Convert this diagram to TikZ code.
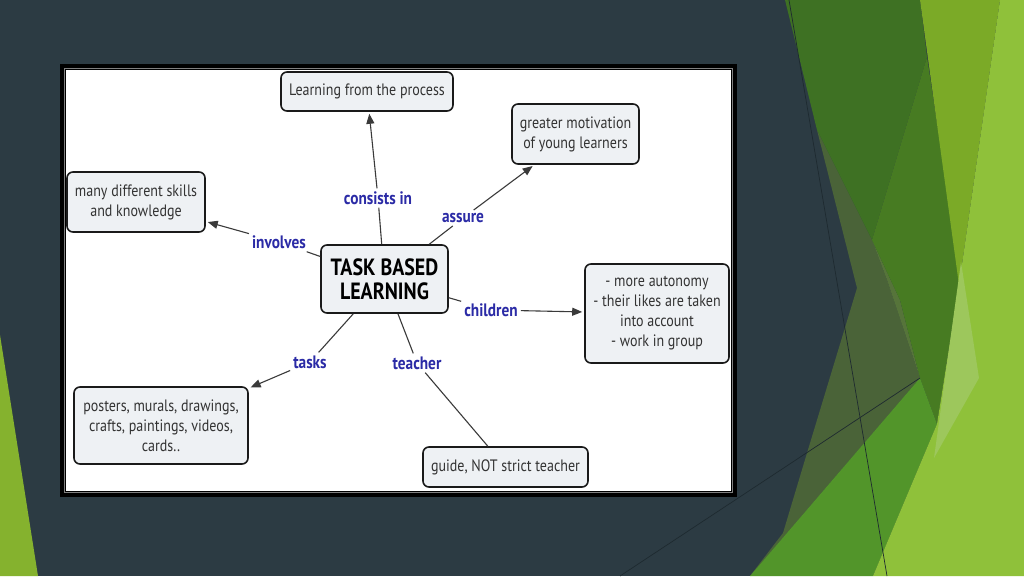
\documentclass[tikz,border=0pt]{standalone}
\usepackage{fontspec}
\setmainfont{PT Sans}[FakeStretch=0.85]
\usetikzlibrary{arrows.meta}
\definecolor{slate}{HTML}{2C3B43}
\definecolor{dkgreen}{HTML}{3E7123}
\definecolor{mdgreen}{HTML}{477B22}
\definecolor{brgreen}{HTML}{52952A}
\definecolor{ylgreen}{HTML}{7BAA27}
\definecolor{lime}{HTML}{8FC13A}
\definecolor{palegreen}{HTML}{9DC75C}
\definecolor{olive}{HTML}{4A6338}
\definecolor{oliveb}{HTML}{56743A}
\definecolor{sliver}{HTML}{85B22E}
\definecolor{thinline}{HTML}{1E2A30}
\definecolor{boxfill}{HTML}{EEF1F4}
\definecolor{boxline}{HTML}{1A1A1A}
\definecolor{boxtext}{HTML}{333333}
\definecolor{labblue}{HTML}{2B2BA6}
\definecolor{lineclr}{HTML}{3A3A3A}
\begin{document}
\begin{tikzpicture}[x=1pt,y=-1pt,
  box/.style={draw=boxline, line width=1.6pt, rounded corners=6pt, fill=boxfill,
    text=boxtext, align=center, inner sep=0pt, font=\fontsize{16.5}{20}\selectfont},
  mainbox/.style={box, text=black, font=\bfseries\fontsize{23.5}{24}\selectfont},
  lab/.style={text=labblue, inner sep=3pt, font=\bfseries\fontsize{18}{20}\selectfont},
  con/.style={draw=lineclr, line width=1.1pt},
  arr/.style={con, -{Triangle[length=10pt,width=8pt]}, shorten >=2pt}]
\useasboundingbox (0,0) rectangle (1024,576);
% background
\fill[slate] (0,0) rectangle (1024,576);
\fill[sliver] (0,335) -- (38,576) -- (0,576) -- cycle;
% green facets
\fill[olive] (817,130) -- (872,240) -- (887,280) -- (920,378) -- (750,576) -- (783,533) -- (807,453) -- (857,288) -- cycle;
\fill[oliveb] (872,240) -- (887,280) -- (920,378) -- (900,300) -- cycle;
\fill[dkgreen] (785,0) -- (920,0) -- (927,57) -- (872,240) -- (817,130) -- cycle;
\fill[mdgreen] (927,57) -- (960,275) -- (958,290) -- (937,424) -- (920,378) -- (900,300) -- (872,240) -- cycle;
\fill[brgreen] (750,576) -- (920,378) -- (937,424) -- (873,576) -- cycle;
\fill[ylgreen] (920,0) -- (1000,0) -- (959,285) -- cycle;
\fill[lime] (1000,0) -- (1024,0) -- (1024,576) -- (873,576) -- (937,424) -- (959,285) -- cycle;
\fill[palegreen] (961,262) -- (979,378) -- (934,458) -- cycle;
\draw[thinline, line width=0.7pt] (789,0) -- (887,576);
\draw[thinline, line width=0.7pt] (620,576) -- (920,378);
% frame
\fill[black] (60,64) rectangle (737,497);
\draw[gray, line width=1pt] (64.5,68.5) rectangle (732.5,492.5);
\fill[white] (66,70) rectangle (731,491);
% nodes
\node[box, minimum width=172pt, minimum height=39pt] (proc) at (367,91.5) {Learning from the process};
\node[box, minimum width=127pt, minimum height=60pt] (motiv) at (575.5,134) {greater motivation\\of young learners};
\node[box, minimum width=138pt, minimum height=60pt] (skills) at (136,202) {many different skills\\and knowledge};
\node[mainbox, minimum width=127pt, minimum height=68pt] (tbl) at (384.5,279) {TASK BASED\\LEARNING};
\node[box, minimum width=144pt, minimum height=99pt] (auto) at (657,313.5) {- more autonomy\\- their likes are taken\\into account\\- work in group};
\node[box, minimum width=174pt, minimum height=77pt] (post) at (161,425.5) {posters, murals, drawings,\\crafts, paintings, videos,\\cards..};
\node[box, minimum width=165pt, minimum height=40pt] (guide) at (505.5,467) {guide, NOT strict teacher};
% labels
\node[lab] (lcons) at (378,198) {consists in};
\node[lab] (lassu) at (463,218) {assure};
\node[lab] (linv) at (279,242) {involves};
\node[lab] (lchi) at (491,310) {children};
\node[lab] (ltas) at (310,362) {tasks};
\node[lab] (ltea) at (417,363) {teacher};
% connectors
\draw[con] (tbl) -- (lcons); \draw[arr] (lcons) -- (proc);
\draw[con] (tbl) -- (lassu); \draw[arr] (lassu) -- (motiv);
\draw[con] (tbl) -- (linv);  \draw[arr] (linv) -- (skills);
\draw[con] (tbl) -- (lchi);  \draw[arr] (lchi) -- (auto);
\draw[con] (tbl) -- (ltas);  \draw[arr] (ltas) -- (post);
\draw[con] (tbl) -- (ltea);  \draw[con] (ltea) -- (guide);
\end{tikzpicture}
\end{document}
